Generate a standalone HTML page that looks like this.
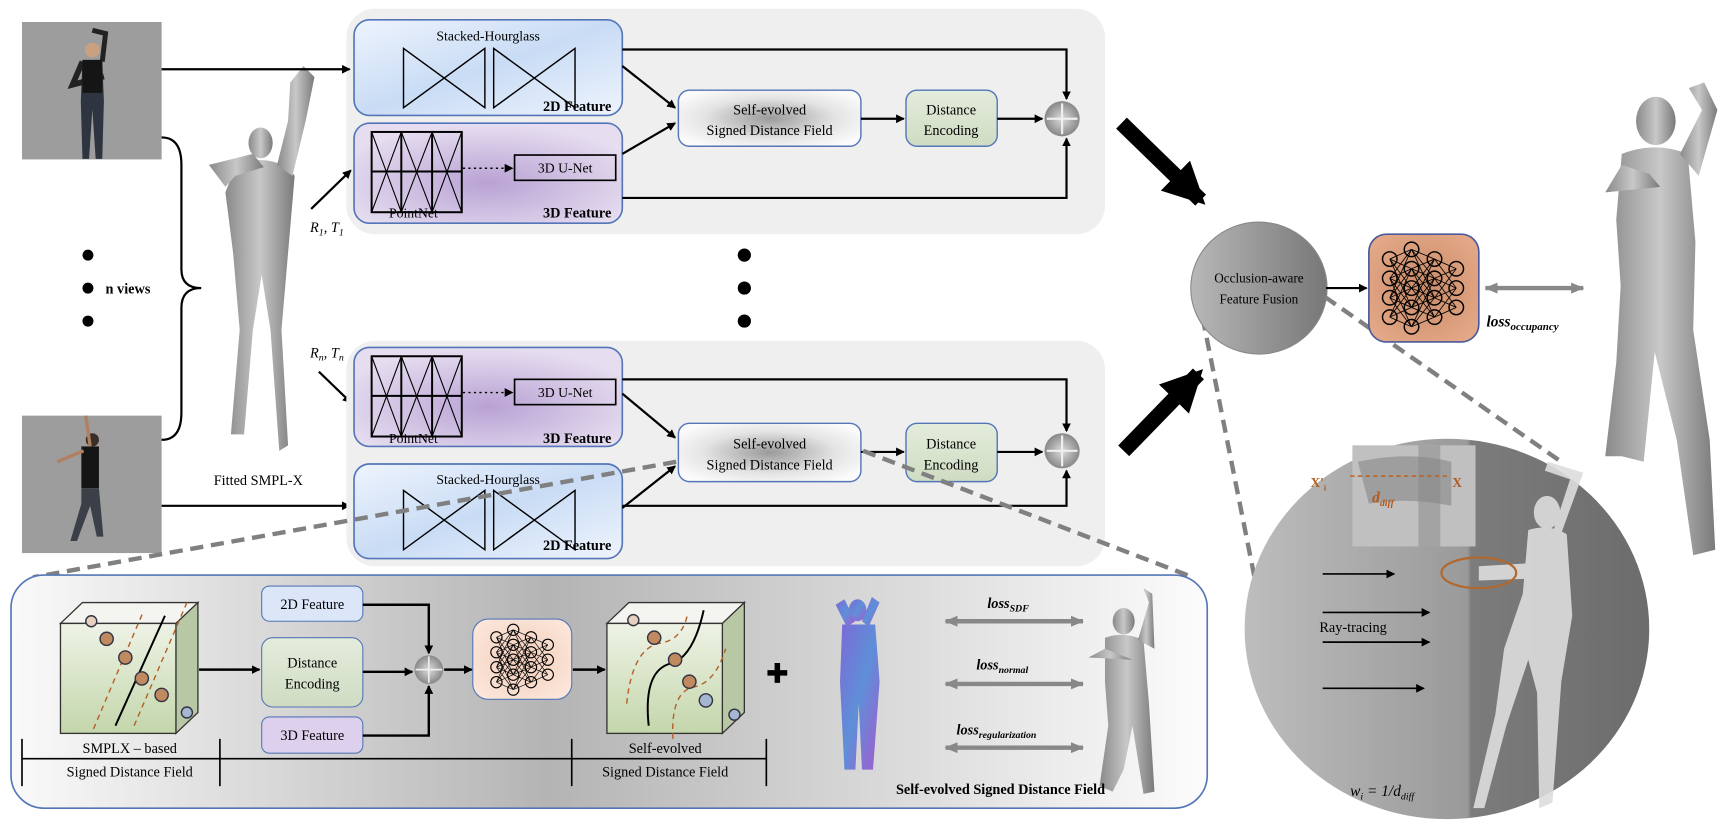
<!DOCTYPE html>
<html><head><meta charset="utf-8"><style>
html,body{margin:0;padding:0;background:#fff;}
svg{display:block;}
text{font-family:"Liberation Serif",serif;}
</style></head><body>
<svg width="1724" height="824" viewBox="0 0 1568 749.4" preserveAspectRatio="none" xmlns="http://www.w3.org/2000/svg">
<defs>
<marker id="ah" markerWidth="8" markerHeight="8" refX="7" refY="4" orient="auto" markerUnits="userSpaceOnUse"><path d="M0,0L8,4L0,8z" fill="#000"/></marker>
<marker id="ahg" markerWidth="12" markerHeight="10" refX="11" refY="5" orient="auto" markerUnits="userSpaceOnUse"><path d="M0,0L12,5L0,10z" fill="#888"/></marker>
<marker id="ahgs" markerWidth="12" markerHeight="10" refX="1" refY="5" orient="auto" markerUnits="userSpaceOnUse"><path d="M12,0L0,5L12,10z" fill="#888"/></marker>
<marker id="big" markerWidth="44" markerHeight="44" refX="32" refY="22" orient="auto" markerUnits="userSpaceOnUse"><path d="M0,3L38,22L0,41z" fill="#000"/></marker>
<linearGradient id="blue" x1="0" y1="0" x2="1" y2="1"><stop offset="0" stop-color="#eef4fd"/><stop offset=".5" stop-color="#c9dcf5"/><stop offset="1" stop-color="#eef4fd"/></linearGradient>
<radialGradient id="purp" cx=".5" cy=".6" r=".6"><stop offset="0" stop-color="#b9a2d4"/><stop offset="1" stop-color="#e6def0"/></radialGradient>
<radialGradient id="sdf" cx=".5" cy=".5" r=".6"><stop offset="0" stop-color="#9a9a9a"/><stop offset=".6" stop-color="#e4e4e4"/><stop offset="1" stop-color="#fbfbfb"/></radialGradient>
<linearGradient id="green" x1="0" y1="0" x2="0" y2="1"><stop offset="0" stop-color="#e4ecdc"/><stop offset="1" stop-color="#cfdcc2"/></linearGradient>
<radialGradient id="plus" cx=".5" cy=".5" r=".5"><stop offset="0" stop-color="#ddd"/><stop offset="1" stop-color="#888"/></radialGradient>
<linearGradient id="occ" x1="0" y1="0" x2="1" y2="0"><stop offset="0" stop-color="#b8b8b8"/><stop offset="1" stop-color="#777"/></linearGradient>
<radialGradient id="orng" cx=".5" cy=".5" r=".6"><stop offset="0" stop-color="#c98a68"/><stop offset="1" stop-color="#e3a887"/></radialGradient>
<radialGradient id="orngl" cx=".5" cy=".5" r=".6"><stop offset="0" stop-color="#f3cdb8"/><stop offset="1" stop-color="#fbe6da"/></radialGradient>
<linearGradient id="bot" x1="0" y1="0" x2="1" y2="0"><stop offset="0" stop-color="#fafafa"/><stop offset=".45" stop-color="#b4b4b4"/><stop offset=".75" stop-color="#dcdcdc"/><stop offset="1" stop-color="#fcfcfc"/></linearGradient>
<linearGradient id="bigc" x1="0" y1="0" x2="1" y2="0"><stop offset="0" stop-color="#bdbdbd"/><stop offset=".55" stop-color="#9a9a9a"/><stop offset=".56" stop-color="#7c7c7c"/><stop offset="1" stop-color="#6c6c6c"/></linearGradient>
<linearGradient id="cube" x1="0" y1="0" x2="0" y2="1"><stop offset="0" stop-color="#eef3e6"/><stop offset="1" stop-color="#c4d6ab"/></linearGradient>
<linearGradient id="mesh" x1="0" y1="0" x2="1" y2="0"><stop offset="0" stop-color="#8a8a8a"/><stop offset=".5" stop-color="#c8c8c8"/><stop offset="1" stop-color="#7a7a7a"/></linearGradient>
<linearGradient id="norm" x1="0" y1="0" x2="1" y2="1"><stop offset="0" stop-color="#7a6bd6"/><stop offset=".5" stop-color="#5f8fd8"/><stop offset="1" stop-color="#a35ad0"/></linearGradient>
<g id="nn" fill="none" stroke="#000" stroke-width="1.2">
<path stroke-width=".7" d="M10 16L28 8M10 16L28 24M10 16L28 40M10 16L28 56M10 32L28 8M10 32L28 24M10 32L28 40M10 32L28 56M10 32L28 72M10 48L28 8M10 48L28 24M10 48L28 40M10 48L28 56M10 48L28 72M10 64L28 24M10 64L28 40M10 64L28 56M10 64L28 72M28 8L47 16M28 8L47 32M28 8L47 48M28 24L47 16M28 24L47 32M28 24L47 48M28 24L47 64M28 40L47 16M28 40L47 32M28 40L47 48M28 40L47 64M28 56L47 16M28 56L47 32M28 56L47 48M28 56L47 64M28 72L47 32M28 72L47 48M28 72L47 64M47 16L65 24M47 16L65 40M47 32L65 24M47 32L65 40M47 32L65 56M47 48L65 24M47 48L65 40M47 48L65 56M47 64L65 40M47 64L65 56"/>
<circle cx="10" cy="16" r="6"/><circle cx="10" cy="32" r="6"/><circle cx="10" cy="48" r="6"/><circle cx="10" cy="64" r="6"/>
<circle cx="28" cy="8" r="6"/><circle cx="28" cy="24" r="6"/><circle cx="28" cy="40" r="6"/><circle cx="28" cy="56" r="6"/><circle cx="28" cy="72" r="6"/>
<circle cx="47" cy="16" r="6"/><circle cx="47" cy="32" r="6"/><circle cx="47" cy="48" r="6"/><circle cx="47" cy="64" r="6"/>
<circle cx="65" cy="24" r="6"/><circle cx="65" cy="40" r="6"/><circle cx="65" cy="56" r="6"/>
</g>
<g id="hg" fill="none" stroke="#000" stroke-width="1.3"><path d="M0 0V54L74 0V54Z"/><path d="M82 0V54L156 0V54Z"/></g>
<g id="pn" fill="none" stroke="#000" stroke-width="1.8"><rect x="0" y="0" width="82" height="73"/><path d="M0 36H82M27 0V73M55 0V73"/><path stroke-width="1" d="M0 0L27 73M27 0L0 73M27 0L55 73M55 0L27 73M55 0L82 73M82 0L55 73"/></g>
</defs>

<!-- input photos -->
<rect x="20" y="20" width="127" height="125" fill="#9d9d9d"/>
<g transform="translate(84,92) scale(0.75)"><path d="M-12 -50H12L14 0L12 70H4L0 10L-4 70H-12L-14 0Z" fill="#2e3440"/><circle cx="0" cy="-62" r="9" fill="#c9a080"/><path d="M-12 -48L-24 -20L14 -30" stroke="#222" stroke-width="7" fill="none"/><path d="M12 -48L16 -82L0 -86" stroke="#222" stroke-width="6" fill="none"/><rect x="-12" y="-50" width="24" height="40" fill="#151515"/></g>
<rect x="20" y="378" width="127" height="125" fill="#9d9d9d"/>
<g transform="translate(80,448)"><circle cx="4" cy="-48" r="6" fill="#3a2e28"/><rect x="-6" y="-42" width="16" height="38" fill="#151515"/><path d="M-6 -4H10L14 40H8L2 12L-10 44H-16L-6 10Z" fill="#3b3f48"/><path d="M-4 -38L-28 -28" stroke="#b08060" stroke-width="3"/><path d="M2 -42L-2 -70" stroke="#b08060" stroke-width="3"/></g>

<!-- brace and dots -->
<path d="M147 125Q165 125 165 150V245Q165 262 183 262Q165 262 165 280V375Q165 400 147 400" fill="none" stroke="#000" stroke-width="2"/>
<circle cx="80" cy="232" r="5"/><circle cx="80" cy="262" r="5"/><circle cx="80" cy="292" r="5"/>
<text x="96" y="267" font-size="13" font-weight="bold">n views</text>

<!-- SMPL-X figure -->
<g fill="url(#mesh)">
<ellipse cx="237" cy="130" rx="11" ry="14"/>
<path d="M215 150Q237 140 262 152L268 160L262 230L256 300L262 405L254 410L246 300L238 250L230 300L222 395L210 395L218 300L212 230L205 175Z"/>
<path d="M252 150L262 110L264 75L276 60L286 70L278 110L266 160Z"/>
<path d="M205 170L190 150L230 140L240 152L214 160Z"/>
</g>
<text x="235" y="441" font-size="13" text-anchor="middle">Fitted SMPL-X</text>

<!-- top panel -->
<rect x="315" y="8" width="690" height="205" rx="26" fill="#efefef"/>
<rect x="322" y="18" width="244" height="87" rx="14" fill="url(#blue)" stroke="#5476b8" stroke-width="1.5"/>
<text x="444" y="37" font-size="12.5" text-anchor="middle">Stacked-Hourglass</text>
<use href="#hg" x="367" y="44"/>
<text x="556" y="101" font-size="13" font-weight="bold" text-anchor="end">2D Feature</text>
<rect x="322" y="112" width="244" height="91" rx="14" fill="url(#purp)" stroke="#5476b8" stroke-width="1.5"/>
<use href="#pn" x="338" y="120"/>
<path d="M421 153H466" stroke="#000" stroke-width="1.3" stroke-dasharray="2 3" marker-end="url(#ah)"/>
<rect x="468" y="141" width="92" height="23" fill="none" stroke="#000" stroke-width="1.5"/>
<text x="514" y="157" font-size="12.5" text-anchor="middle">3D U-Net</text>
<text x="376" y="198" font-size="12.5" text-anchor="middle">PointNet</text>
<text x="556" y="198" font-size="13" font-weight="bold" text-anchor="end">3D Feature</text>
<rect x="617" y="82" width="166" height="51" rx="10" fill="url(#sdf)" stroke="#5476b8" stroke-width="1.3"/>
<text x="700" y="104" font-size="13" text-anchor="middle">Self-evolved</text>
<text x="700" y="123" font-size="13" text-anchor="middle">Signed Distance Field</text>
<rect x="824" y="82" width="83" height="51" rx="10" fill="url(#green)" stroke="#5476b8" stroke-width="1.3"/>
<text x="865" y="104" font-size="13" text-anchor="middle">Distance</text>
<text x="865" y="123" font-size="13" text-anchor="middle">Encoding</text>
<circle cx="966" cy="108" r="16" fill="url(#plus)"/><path d="M952 108H980M966 94V122" stroke="#eee" stroke-width="2"/>
<g fill="none" stroke="#000" stroke-width="2">
<path d="M147 63H318" marker-end="url(#ah)"/>
<path d="M566 45H970V90" marker-end="url(#ah)"/>
<path d="M566 180H970V126" marker-end="url(#ah)"/>
<path d="M566 60L614 98" marker-end="url(#ah)"/>
<path d="M566 140L614 112" marker-end="url(#ah)"/>
<path d="M783 108H822" marker-end="url(#ah)"/>
<path d="M907 108H948" marker-end="url(#ah)"/>
<path d="M283 190L319 155" marker-end="url(#ah)"/>
<path d="M290 338L319 366" marker-end="url(#ah)"/>
<path d="M147 460H318" marker-end="url(#ah)"/>
</g>
<text x="282" y="211" font-size="13" font-style="italic">R<tspan font-size="9" dy="3">1</tspan><tspan dy="-3">, T</tspan><tspan font-size="9" dy="3">1</tspan></text>
<text x="282" y="325" font-size="13" font-style="italic">R<tspan font-size="9" dy="3">n</tspan><tspan dy="-3">, T</tspan><tspan font-size="9" dy="3">n</tspan></text>
<circle cx="677" cy="232" r="6"/><circle cx="677" cy="262" r="6"/><circle cx="677" cy="292" r="6"/>

<!-- bottom panel of pipeline -->
<rect x="315" y="310" width="690" height="205" rx="26" fill="#efefef"/>
<rect x="322" y="316" width="244" height="90" rx="14" fill="url(#purp)" stroke="#5476b8" stroke-width="1.5"/>
<use href="#pn" x="338" y="324"/>
<path d="M421 357H466" stroke="#000" stroke-width="1.3" stroke-dasharray="2 3" marker-end="url(#ah)"/>
<rect x="468" y="345" width="92" height="23" fill="none" stroke="#000" stroke-width="1.5"/>
<text x="514" y="361" font-size="12.5" text-anchor="middle">3D U-Net</text>
<text x="376" y="403" font-size="12.5" text-anchor="middle">PointNet</text>
<text x="556" y="403" font-size="13" font-weight="bold" text-anchor="end">3D Feature</text>
<rect x="322" y="422" width="244" height="86" rx="14" fill="url(#blue)" stroke="#5476b8" stroke-width="1.5"/>
<text x="444" y="440" font-size="12.5" text-anchor="middle">Stacked-Hourglass</text>
<use href="#hg" x="367" y="446"/>
<text x="556" y="500" font-size="13" font-weight="bold" text-anchor="end">2D Feature</text>
<rect x="617" y="385" width="166" height="53" rx="10" fill="url(#sdf)" stroke="#5476b8" stroke-width="1.3"/>
<text x="700" y="408" font-size="13" text-anchor="middle">Self-evolved</text>
<text x="700" y="427" font-size="13" text-anchor="middle">Signed Distance Field</text>
<rect x="824" y="385" width="83" height="53" rx="10" fill="url(#green)" stroke="#5476b8" stroke-width="1.3"/>
<text x="865" y="408" font-size="13" text-anchor="middle">Distance</text>
<text x="865" y="427" font-size="13" text-anchor="middle">Encoding</text>
<circle cx="966" cy="410" r="16" fill="url(#plus)"/><path d="M952 410H980M966 396V424" stroke="#eee" stroke-width="2"/>
<g fill="none" stroke="#000" stroke-width="2">
<path d="M566 345H970V392" marker-end="url(#ah)"/>
<path d="M566 460H970V428" marker-end="url(#ah)"/>
<path d="M566 358L614 398" marker-end="url(#ah)"/>
<path d="M566 462L614 424" marker-end="url(#ah)"/>
<path d="M783 411H822" marker-end="url(#ah)"/>
<path d="M907 411H948" marker-end="url(#ah)"/>
</g>

<!-- big arrows -->
<path d="M1020 112L1092 182" stroke="#000" stroke-width="14" marker-end="url(#big)"/>
<path d="M1022 410L1090 340" stroke="#000" stroke-width="14" marker-end="url(#big)"/>

<!-- dashed lines -->
<g stroke="#808080" stroke-width="4" stroke-dasharray="12 7" fill="none">
<path d="M615 420L30 525"/>
<path d="M785 410L1085 525"/>
<path d="M1090 270L1145 545"/>
<path d="M1205 270L1420 420"/>
</g>

<!-- occlusion fusion -->
<ellipse cx="1145" cy="262" rx="62" ry="60" fill="url(#occ)" stroke="#888"/>
<text x="1145" y="257" font-size="12" text-anchor="middle">Occlusion-aware</text>
<text x="1145" y="276" font-size="12" text-anchor="middle">Feature Fusion</text>
<path d="M1206 262H1243" stroke="#000" stroke-width="2" marker-end="url(#ah)"/>
<rect x="1245" y="213" width="100" height="98" rx="16" fill="url(#orng)" stroke="#4a5a9a" stroke-width="1.5"/>
<use href="#nn" transform="translate(1253,218) scale(1.1)"/>
<path d="M1351 262H1440" stroke="#888" stroke-width="4" marker-start="url(#ahgs)" marker-end="url(#ahg)"/>
<text x="1352" y="297" font-size="14" font-weight="bold" font-style="italic">loss<tspan font-size="10" dy="3">occupancy</tspan></text>

<!-- right mesh human -->
<g fill="url(#mesh)">
<ellipse cx="1506" cy="110" rx="18" ry="22"/>
<path d="M1475 140Q1506 128 1535 140L1542 220L1540 300L1555 400L1560 500L1540 505L1525 400L1505 320L1495 420L1475 415L1460 415L1470 330L1474 260L1470 200Z"/>
<path d="M1528 140L1548 100L1536 80L1550 75L1562 100L1545 160Z"/>
<path d="M1475 150L1460 175L1510 170L1500 158Z"/>
</g>

<!-- big circle -->
<ellipse cx="1316" cy="572" rx="184" ry="173" fill="url(#bigc)"/>
<rect x="1230" y="405" width="112" height="92" fill="#c0c0c0"/>
<path d="M1235 420Q1280 410 1320 420V460Q1280 452 1245 458Z" fill="#9e9e9e"/>
<path d="M1300 405V497" stroke="#888" stroke-width="20" opacity=".5"/>
<path d="M1228 433H1318" stroke="#c06020" stroke-width="1.3" stroke-dasharray="4 3"/>
<text x="1192" y="443" font-size="12" fill="#b05a20" font-weight="bold">X'<tspan font-size="8" dy="3">i</tspan></text>
<text x="1321" y="443" font-size="12" fill="#b05a20" font-weight="bold">X</text>
<text x="1248" y="457" font-size="14" fill="#b05a20" font-weight="bold" font-style="italic">d<tspan font-size="9" dy="3">diff</tspan></text>
<g fill="#ddd" opacity=".9">
<ellipse cx="1407" cy="466" rx="12" ry="15"/>
<path d="M1390 482Q1410 476 1425 486L1430 560L1420 620L1412 730L1400 735L1398 630L1390 600L1370 660L1350 735L1340 735L1360 650L1368 590L1385 540Z"/>
<path d="M1420 485L1440 430L1408 420L1405 428L1428 436L1412 485Z"/>
<path d="M1395 512L1345 515L1345 528L1398 526Z"/>
</g>
<ellipse cx="1345" cy="521" rx="34" ry="14" fill="none" stroke="#b0682f" stroke-width="2"/>
<g stroke="#000" stroke-width="1.5" fill="none">
<path d="M1203 522H1268" marker-end="url(#ah)"/>
<path d="M1203 557H1300" marker-end="url(#ah)"/>
<path d="M1203 584H1300" marker-end="url(#ah)"/>
<path d="M1203 626H1295" marker-end="url(#ah)"/>
</g>
<text x="1200" y="575" font-size="13">Ray-tracing</text>
<text x="1228" y="724" font-size="14" font-style="italic">w<tspan font-size="9" dy="3">i</tspan><tspan dy="-3"> = 1/d</tspan><tspan font-size="9" dy="3">diff</tspan></text>

<!-- bottom detail panel -->
<rect x="10" y="523" width="1088" height="212" rx="30" fill="url(#bot)" stroke="#5476b8" stroke-width="1.5"/>
<g stroke="#333" stroke-width="1.2">
<path d="M55 567L75 548H180L160 567Z" fill="#f4f4f0"/>
<path d="M160 567L180 548V648L160 667Z" fill="#b9c8a4"/>
<rect x="55" y="567" width="105" height="100" fill="url(#cube)"/>
</g>
<path d="M85 663L130 557" stroke="#b5622a" stroke-width="1.3" stroke-dasharray="5 4"/>
<path d="M105 660L150 560" stroke="#000" stroke-width="1.8"/>
<path d="M122 660L170 548" stroke="#b5622a" stroke-width="1.3" stroke-dasharray="5 4"/>
<g stroke="#334" stroke-width="1.3"><circle cx="83" cy="565" r="5" fill="#e6d0c0"/><circle cx="97" cy="581" r="6" fill="#c08a60"/><circle cx="114" cy="598" r="6" fill="#c08a60"/><circle cx="129" cy="617" r="6" fill="#c08a60"/><circle cx="147" cy="632" r="6" fill="#c08a60"/><circle cx="170" cy="648" r="5" fill="#a4b6d0"/></g>
<rect x="238" y="533" width="92" height="32" rx="7" fill="#dbe6f8" stroke="#5476b8"/>
<text x="284" y="554" font-size="13" text-anchor="middle">2D Feature</text>
<rect x="238" y="580" width="92" height="63" rx="10" fill="url(#green)" stroke="#5476b8"/>
<text x="284" y="607" font-size="13" text-anchor="middle">Distance</text>
<text x="284" y="626" font-size="13" text-anchor="middle">Encoding</text>
<rect x="238" y="652" width="92" height="33" rx="7" fill="#ddd0ec" stroke="#5476b8"/>
<text x="284" y="673" font-size="13" text-anchor="middle">3D Feature</text>
<circle cx="390" cy="609" r="13" fill="url(#plus)"/><path d="M378 609H402M390 597V621" stroke="#eee" stroke-width="1.5"/>
<g fill="none" stroke="#000" stroke-width="2.2">
<path d="M181 609H236" marker-end="url(#ah)"/>
<path d="M330 550H390V594" marker-end="url(#ah)"/>
<path d="M330 611H375" marker-end="url(#ah)"/>
<path d="M330 669H390V624" marker-end="url(#ah)"/>
<path d="M404 609H429" marker-end="url(#ah)"/>
<path d="M521 609H550" marker-end="url(#ah)"/>
</g>
<rect x="430" y="563" width="90" height="73" rx="14" fill="url(#orngl)" stroke="#5476b8"/>
<use href="#nn" transform="translate(443,566) scale(0.85)"/>
<g stroke="#333" stroke-width="1.2">
<path d="M552 567L572 548H677L657 567Z" fill="#f4f4f0"/>
<path d="M657 567L677 548V648L657 667Z" fill="#b9c8a4"/>
<rect x="552" y="567" width="105" height="100" fill="url(#cube)"/>
</g>
<path d="M570 640Q575 590 600 585Q620 582 625 560" stroke="#b5622a" stroke-width="1.3" stroke-dasharray="5 4" fill="none"/>
<path d="M590 660Q585 612 608 604Q630 600 640 555" stroke="#000" stroke-width="1.8" fill="none"/>
<path d="M612 672Q610 630 630 625Q650 622 660 590" stroke="#b5622a" stroke-width="1.3" stroke-dasharray="5 4" fill="none"/>
<g stroke="#334" stroke-width="1.3"><circle cx="576" cy="564" r="5" fill="#e6d0c0"/><circle cx="595" cy="580" r="6" fill="#c08a60"/><circle cx="614" cy="600" r="6" fill="#c08a60"/><circle cx="627" cy="620" r="6" fill="#c08a60"/><circle cx="642" cy="637" r="6" fill="#a4b6d0"/><circle cx="668" cy="650" r="5" fill="#a4b6d0"/></g>
<g stroke="#000" stroke-width="1.5"><path d="M20 690H697M20 672V715M200 672V715M520 672V715M697 672V715"/></g>
<text x="118" y="685" font-size="13" text-anchor="middle">SMPLX – based</text>
<text x="118" y="706" font-size="13" text-anchor="middle">Signed Distance Field</text>
<text x="605" y="685" font-size="13" text-anchor="middle">Self-evolved</text>
<text x="605" y="706" font-size="13" text-anchor="middle">Signed Distance Field</text>
<path d="M707 603V621M698 612H716" stroke="#000" stroke-width="5"/>
<g fill="url(#norm)"><ellipse cx="780" cy="555" rx="8" ry="10"/><path d="M766 568H796L800 620L794 700H784L781 640L778 700H768L764 620Z"/><path d="M770 570L760 550L768 545L778 565Z"/><path d="M790 570L800 548L793 543L784 565Z"/></g>
<g stroke="#888" stroke-width="4" fill="none">
<path d="M860 565H985" marker-start="url(#ahgs)" marker-end="url(#ahg)"/>
<path d="M860 622H985" marker-start="url(#ahgs)" marker-end="url(#ahg)"/>
<path d="M860 680H985" marker-start="url(#ahgs)" marker-end="url(#ahg)"/>
</g>
<text x="898" y="553" font-size="13" font-weight="bold" font-style="italic">loss<tspan font-size="9" dy="3">SDF</tspan></text>
<text x="888" y="609" font-size="13" font-weight="bold" font-style="italic">loss<tspan font-size="9" dy="3">normal</tspan></text>
<text x="870" y="668" font-size="13" font-weight="bold" font-style="italic">loss<tspan font-size="9" dy="3">regularization</tspan></text>
<g fill="url(#mesh)"><ellipse cx="1022" cy="565" rx="10" ry="12"/><path d="M1005 580Q1022 574 1040 582L1045 640L1050 720L1040 722L1030 660L1022 700L1012 720L1000 715L1008 660L1005 620Z"/><path d="M1035 582L1045 548L1040 535L1048 540L1050 590Z"/><path d="M1005 590L990 598L1030 600Z"/></g>
<text x="910" y="722" font-size="13" font-weight="bold" text-anchor="middle">Self-evolved Signed Distance Field</text>
</svg>
</body></html>
